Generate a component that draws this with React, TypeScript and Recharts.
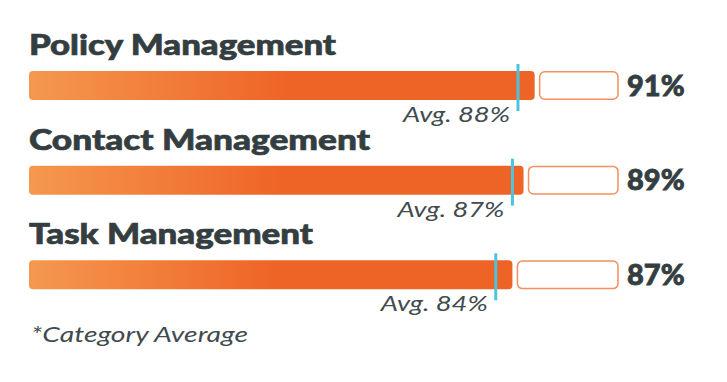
import { BarChart, Bar, XAxis, YAxis } from 'recharts';

const categories = ['Policy Management', 'Contact Management', 'Task Management'];
const scores = [91, 89, 87];
const averages = [88, 87, 84];
const titleWidths = [307, 341, 284];

const TRACK_MAX = 106;

const data = categories.map((name, i) => ({
  name,
  score: scores[i],
  avg: averages[i],
  titleWidth: titleWidths[i],
}));

const dark = '#343e41';
const soft = '#414b4e';

const ScoreBar = (props: any) => {
  const { x, y, width, height, payload } = props;
  const unit = width / payload.score;
  const barEnd = x + width;
  const trackEnd = x + TRACK_MAX * unit;
  const avgX = x + payload.avg * unit;
  const gap = 5;

  return (
    <g>
      <text
        x={x}
        y={y - 16}
        fill={dark}
        stroke={dark}
        strokeWidth={0.7}
        fontSize={29}
        fontWeight={900}
        fontFamily="Lato, sans-serif"
        textLength={payload.titleWidth}
        lengthAdjust="spacingAndGlyphs"
      >
        {payload.name}
      </text>
      <rect x={x} y={y} width={width} height={height} rx={4} fill="url(#barGrad)" />
      <rect
        x={barEnd + gap}
        y={y + 0.75}
        width={trackEnd - barEnd - gap}
        height={height - 1.5}
        rx={5}
        fill="#fff"
        stroke="#f4905e"
        strokeWidth={1.5}
      />
      <text
        x={trackEnd + 9}
        y={y + height / 2 + 10}
        fill={dark}
        stroke={dark}
        strokeWidth={0.8}
        fontSize={29}
        fontWeight={900}
        fontFamily="Lato, sans-serif"
      >
        {payload.score}%
      </text>
      <line x1={avgX} x2={avgX} y1={y - 7} y2={y + height + 11} stroke="#4ec3df" strokeWidth={3} />
      <text
        x={avgX - 8}
        y={y + height + 22}
        textAnchor="end"
        fill={soft}
        fontSize={21}
        fontStyle="italic"
        fontWeight={400}
        fontFamily="Lato, sans-serif"
        textLength={107}
        lengthAdjust="spacingAndGlyphs"
      >
        Avg. {payload.avg}%
      </text>
    </g>
  );
};

export default function App() {
  return (
    <div style={{ position: 'absolute', left: 0, top: 0, background: '#fff' }}>
      <BarChart
        width={727}
        height={382}
        data={data}
        layout="vertical"
        margin={{ top: 38, right: 109, bottom: 60, left: 29 }}
      >
        <defs>
          <linearGradient id="barGrad" x1="0" y1="0" x2="1" y2="0">
            <stop offset="0" stopColor="#f5984f" />
            <stop offset="0.52" stopColor="#ee6326" />
            <stop offset="1" stopColor="#ee6326" />
          </linearGradient>
        </defs>
        <XAxis type="number" domain={[0, TRACK_MAX]} hide />
        <YAxis type="category" dataKey="name" hide width={0} />
        <Bar dataKey="score" barSize={29} shape={ScoreBar} isAnimationActive={false} />
        <text
          x={31}
          y={342}
          fill={soft}
          fontSize={21}
          fontStyle="italic"
          fontWeight={400}
          fontFamily="Lato, sans-serif"
          textLength={217}
          lengthAdjust="spacingAndGlyphs"
        >
          *Category Average
        </text>
      </BarChart>
    </div>
  );
}
